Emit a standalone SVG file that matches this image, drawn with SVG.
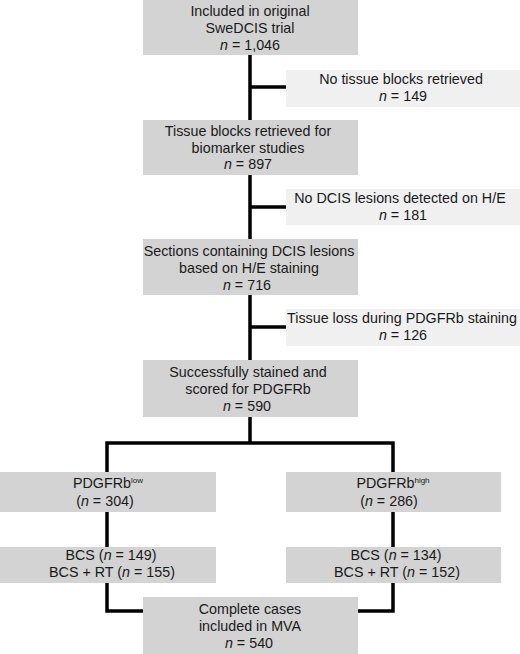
<svg xmlns="http://www.w3.org/2000/svg" width="520" height="654" viewBox="0 0 520 654">
<style>
.main{fill:#d3d3d3}
.side{fill:#f0f0f0}
text{font-family:"Liberation Sans",Arial,sans-serif;font-size:14.3px;fill:#1a1a1a;text-anchor:middle}
.ln{stroke:#000;stroke-width:3.5;fill:none}
</style>
<rect width="520" height="654" fill="#fff"/>
<g id="connectors">
<path class="ln" d="M250 55V120M250 87H286M250 175V239M250 207H286M250 295V360M250 327H286M250 417V443M107 472V443H393V472M107 512V547M393 512V547M107 583V611H143M393 583V611H358"/>
</g>
<g id="n1"><rect class="main" x="143" y="0" width="215" height="55"/>
<text x="250" y="16">Included in original</text><text x="250" y="33">SweDCIS trial</text><text x="250" y="50"><tspan font-style="italic">n</tspan> = 1,046</text></g>
<g id="s1"><rect class="side" x="286" y="70" width="234" height="37"/>
<text x="401" y="84">No tissue blocks retrieved</text><text x="403" y="101"><tspan font-style="italic">n</tspan> = 149</text></g>
<g id="n2"><rect class="main" x="143" y="120" width="215" height="55"/>
<text x="248" y="136">Tissue blocks retrieved for</text><text x="248" y="153">biomarker studies</text><text x="248" y="169"><tspan font-style="italic">n</tspan> = 897</text></g>
<g id="s2"><rect class="side" x="286" y="189" width="234" height="36"/>
<text x="400" y="203">No DCIS lesions detected on H/E</text><text x="403" y="220"><tspan font-style="italic">n</tspan> = 181</text></g>
<g id="n3"><rect class="main" x="143" y="239" width="215" height="56"/>
<text x="249" y="256">Sections containing DCIS lesions</text><text x="249" y="273">based on H/E staining</text><text x="247" y="290"><tspan font-style="italic">n</tspan> = 716</text></g>
<g id="s3"><rect class="side" x="286" y="309" width="234" height="37"/>
<text x="402" y="323">Tissue loss during PDGFRb staining</text><text x="403" y="340"><tspan font-style="italic">n</tspan> = 126</text></g>
<g id="n4"><rect class="main" x="143" y="360" width="215" height="57"/>
<text x="248" y="377">Successfully stained and</text><text x="248" y="394">scored for PDGFRb</text><text x="247" y="411"><tspan font-style="italic">n</tspan> = 590</text></g>
<g id="low"><rect class="main" x="0" y="472" width="216" height="40"/>
<text x="108" y="488">PDGFRb<tspan font-size="8" dy="-5">low</tspan></text><text x="105" y="506">(<tspan font-style="italic">n</tspan> = 304)</text></g>
<g id="high"><rect class="main" x="286" y="472" width="215" height="40"/>
<text x="393" y="488">PDGFRb<tspan font-size="8" dy="-5">high</tspan></text><text x="389" y="506">(<tspan font-style="italic">n</tspan> = 286)</text></g>
<g id="lowtx"><rect class="main" x="0" y="547" width="216" height="36"/>
<text x="111" y="560">BCS (<tspan font-style="italic">n</tspan> = 149)</text><text x="112" y="577">BCS + RT (<tspan font-style="italic">n</tspan> = 155)</text></g>
<g id="hightx"><rect class="main" x="286" y="547" width="215" height="36"/>
<text x="396" y="560">BCS (<tspan font-style="italic">n</tspan> = 134)</text><text x="397" y="577">BCS + RT (<tspan font-style="italic">n</tspan> = 152)</text></g>
<g id="final"><rect class="main" x="143" y="597" width="215" height="57"/>
<text x="250" y="614">Complete cases</text><text x="250" y="631">included in MVA</text><text x="249" y="648"><tspan font-style="italic">n</tspan> = 540</text></g>
</svg>
